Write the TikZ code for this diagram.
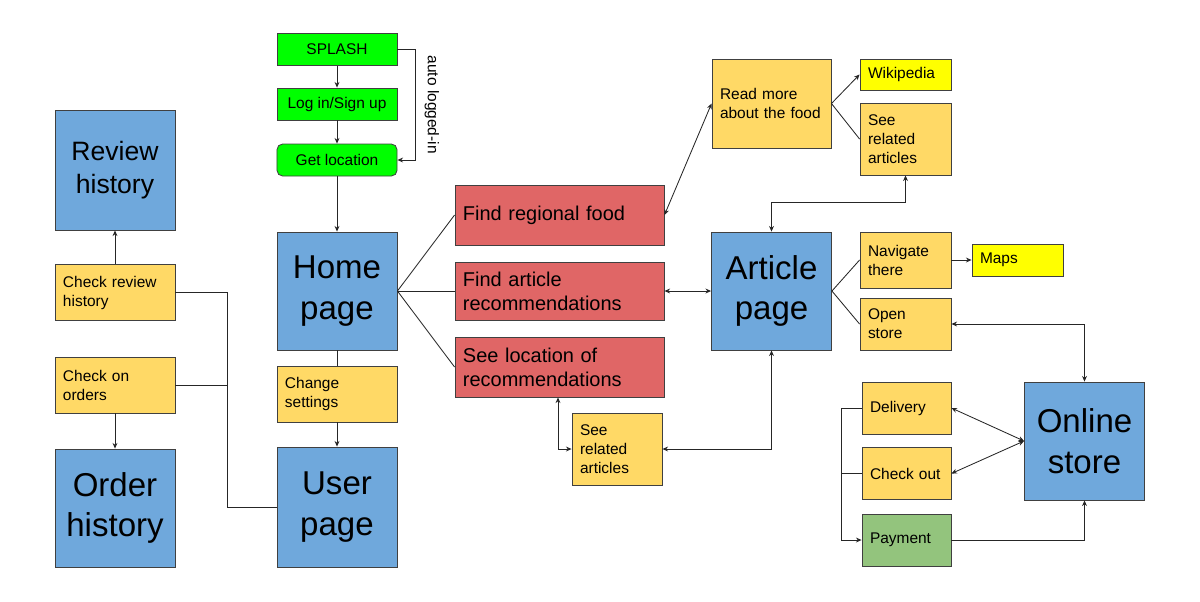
\documentclass[tikz,border=0pt]{standalone}
\usepackage{fontspec}
\setmainfont{Liberation Sans}
\usetikzlibrary{arrows.meta, positioning}

\definecolor{pageblue}{HTML}{6FA8DC}
\definecolor{featred}{HTML}{E06666}
\definecolor{optyellow}{HTML}{FFD966}
\definecolor{startgreen}{HTML}{00FF00}
\definecolor{extyellow}{HTML}{FFFF00}
\definecolor{paygreen}{HTML}{93C47D}

\begin{document}
\begin{tikzpicture}[
    x=0.025cm, y=-0.025cm,
    base/.style={rectangle, draw=black!75, line width=0.6pt, inner sep=0pt},
    start/.style={base, fill=startgreen, minimum width=3cm, minimum height=0.8cm,
                font=\fontsize{11}{13.5}\selectfont},
    page/.style={base, fill=pageblue, minimum width=3cm, minimum height=2.95cm,
                align=center, font=\fontsize{23.5}{29}\selectfont},
    feature/.style={base, fill=featred, minimum width=5.225cm, minimum height=1.5cm,
                text width=4.825cm, inner xsep=0.2cm, align=left,
                font=\fontsize{14.2}{17}\selectfont},
    option/.style={base, fill=optyellow, inner xsep=0.2cm, align=left,
                font=\fontsize{11}{13.5}\selectfont},
    extern/.style={option, fill=extyellow},
    line/.style={draw=black!85, line width=0.6pt},
    arrow/.style={line, -{Stealth[length=4pt, width=3.5pt]}},
    twoway/.style={line, {Stealth[length=4pt, width=3.5pt]}-{Stealth[length=4pt, width=3.5pt]}}
]
\useasboundingbox (0,0) rectangle (1200,601);

% start-up chain
\node[start] (splash) at (337,49.5) {SPLASH};
\node[start] (login) at (337,104) {Log in/Sign up};
\node[start, rounded corners=4pt] (getloc) at (337,160) {Get location};

% main pages
\node[page] (home) at (337,291) {Home\\page};
\node[option, minimum width=3cm, text width=2.6cm, minimum height=1.4cm] (settings) at (337,394) {Change\\settings};
\node[page, minimum height=3cm] (user) at (337,507) {User\\page};

% user side
\node[page, minimum height=3cm, font=\fontsize{18.9}{24}\selectfont] (review) at (115,170) {Review\\history};
\node[option, minimum width=3cm, text width=2.6cm, minimum height=1.4cm] (chkreview) at (115,292.5) {Check review\\history};
\node[option, minimum width=3cm, text width=2.6cm, minimum height=1.4cm] (chkorders) at (115,385) {Check on\\orders};
\node[page] (orders) at (115,508) {Order\\history};

% features
\node[feature] (regional) at (559.5,215) {Find regional food};
\node[feature, minimum height=1.45cm] (recs) at (559.5,291) {Find article\\recommendations};
\node[feature] (locrecs) at (559.5,367) {See location of\\recommendations};
\node[option, minimum width=2.25cm, text width=1.85cm, minimum height=1.8cm] (related2) at (617,449) {See\\related\\articles};

% article side
\node[option, minimum width=2.975cm, text width=2.575cm, minimum height=2.225cm] (readmore) at (771.5,103.5) {Read more\\about the food};
\node[extern, minimum width=2.275cm, text width=1.875cm, minimum height=0.775cm] (wiki) at (905.5,74.5) {Wikipedia};
\node[option, minimum width=2.275cm, text width=1.875cm, minimum height=1.8cm] (related1) at (905.5,139) {See\\related\\articles};
\node[page] (article) at (771.5,291) {Article\\page};
\node[option, minimum width=2.275cm, text width=1.875cm, minimum height=1.4cm] (navigate) at (905.5,260) {Navigate\\there};
\node[extern, minimum width=2.275cm, text width=1.875cm, minimum height=0.8cm] (maps) at (1017.5,260) {Maps};
\node[option, minimum width=2.275cm, text width=1.875cm, minimum height=1.3cm] (openstore) at (905.5,324) {Open\\store};

% store side
\node[page] (store) at (1084.5,441) {Online\\store};
\node[option, minimum width=2.225cm, text width=1.825cm, minimum height=1.3cm] (delivery) at (906.5,408) {Delivery};
\node[option, minimum width=2.225cm, text width=1.825cm, minimum height=1.3cm] (checkout) at (906.5,473.5) {Check out};
\node[option, fill=paygreen, minimum width=2.225cm, text width=1.825cm, minimum height=1.3cm] (payment) at (906.5,540) {Payment};

% start-up flow
\draw[arrow] (splash) -- (login);
\draw[arrow] (login) -- (getloc);
\draw[arrow] (splash.east) -- ++(18,0) |- node[pos=0.25, right=3pt, rotate=-90, anchor=south, font=\fontsize{11}{13.5}\selectfont] {auto logged-in} (getloc.east);
\draw[arrow] (getloc) -- (home);
\draw[line] (home) -- (settings);
\draw[arrow] (settings) -- (user);

% user side
\draw[arrow] (chkreview) -- (review);
\draw[arrow] (chkorders) -- (orders);
\draw[line] (chkreview.east) -| (227,507) -- (user.west);
\draw[line] (chkorders.east) -- (227,385);

% home to features
\draw[line] (home.east) -- (regional.west);
\draw[line] (home.east) -- (recs.west);
\draw[line] (home.east) -- (locrecs.west);
\draw[twoway] (regional.east) -- (readmore.west);
\draw[twoway] (recs.east) -- (article.west);
\draw[twoway] (locrecs.south -| 558,0) |- (related2.west);
\draw[twoway] (article.south) |- (related2.east);

% article side
\draw[arrow] (readmore.east) -- (wiki.west);
\draw[line] (readmore.east) -- (related1.west);
\draw[twoway] (article.north) -- ++(0,-29) -| (related1.south);
\draw[line] (article.east) -- (navigate.west);
\draw[line] (article.east) -- (openstore.west);
\draw[arrow] (navigate) -- (maps);
\draw[twoway] (store.north) |- (openstore.east);

% store side
\draw[twoway] (delivery.east) -- (store.west);
\draw[twoway] (checkout.east) -- (store.west);
\draw[arrow] (delivery.west) -- ++(-20,0) |- (payment.west);
\draw[line] (checkout.west) -- ++(-20,0);
\draw[arrow] (payment.east) -| (store.south);

\end{tikzpicture}
\end{document}
